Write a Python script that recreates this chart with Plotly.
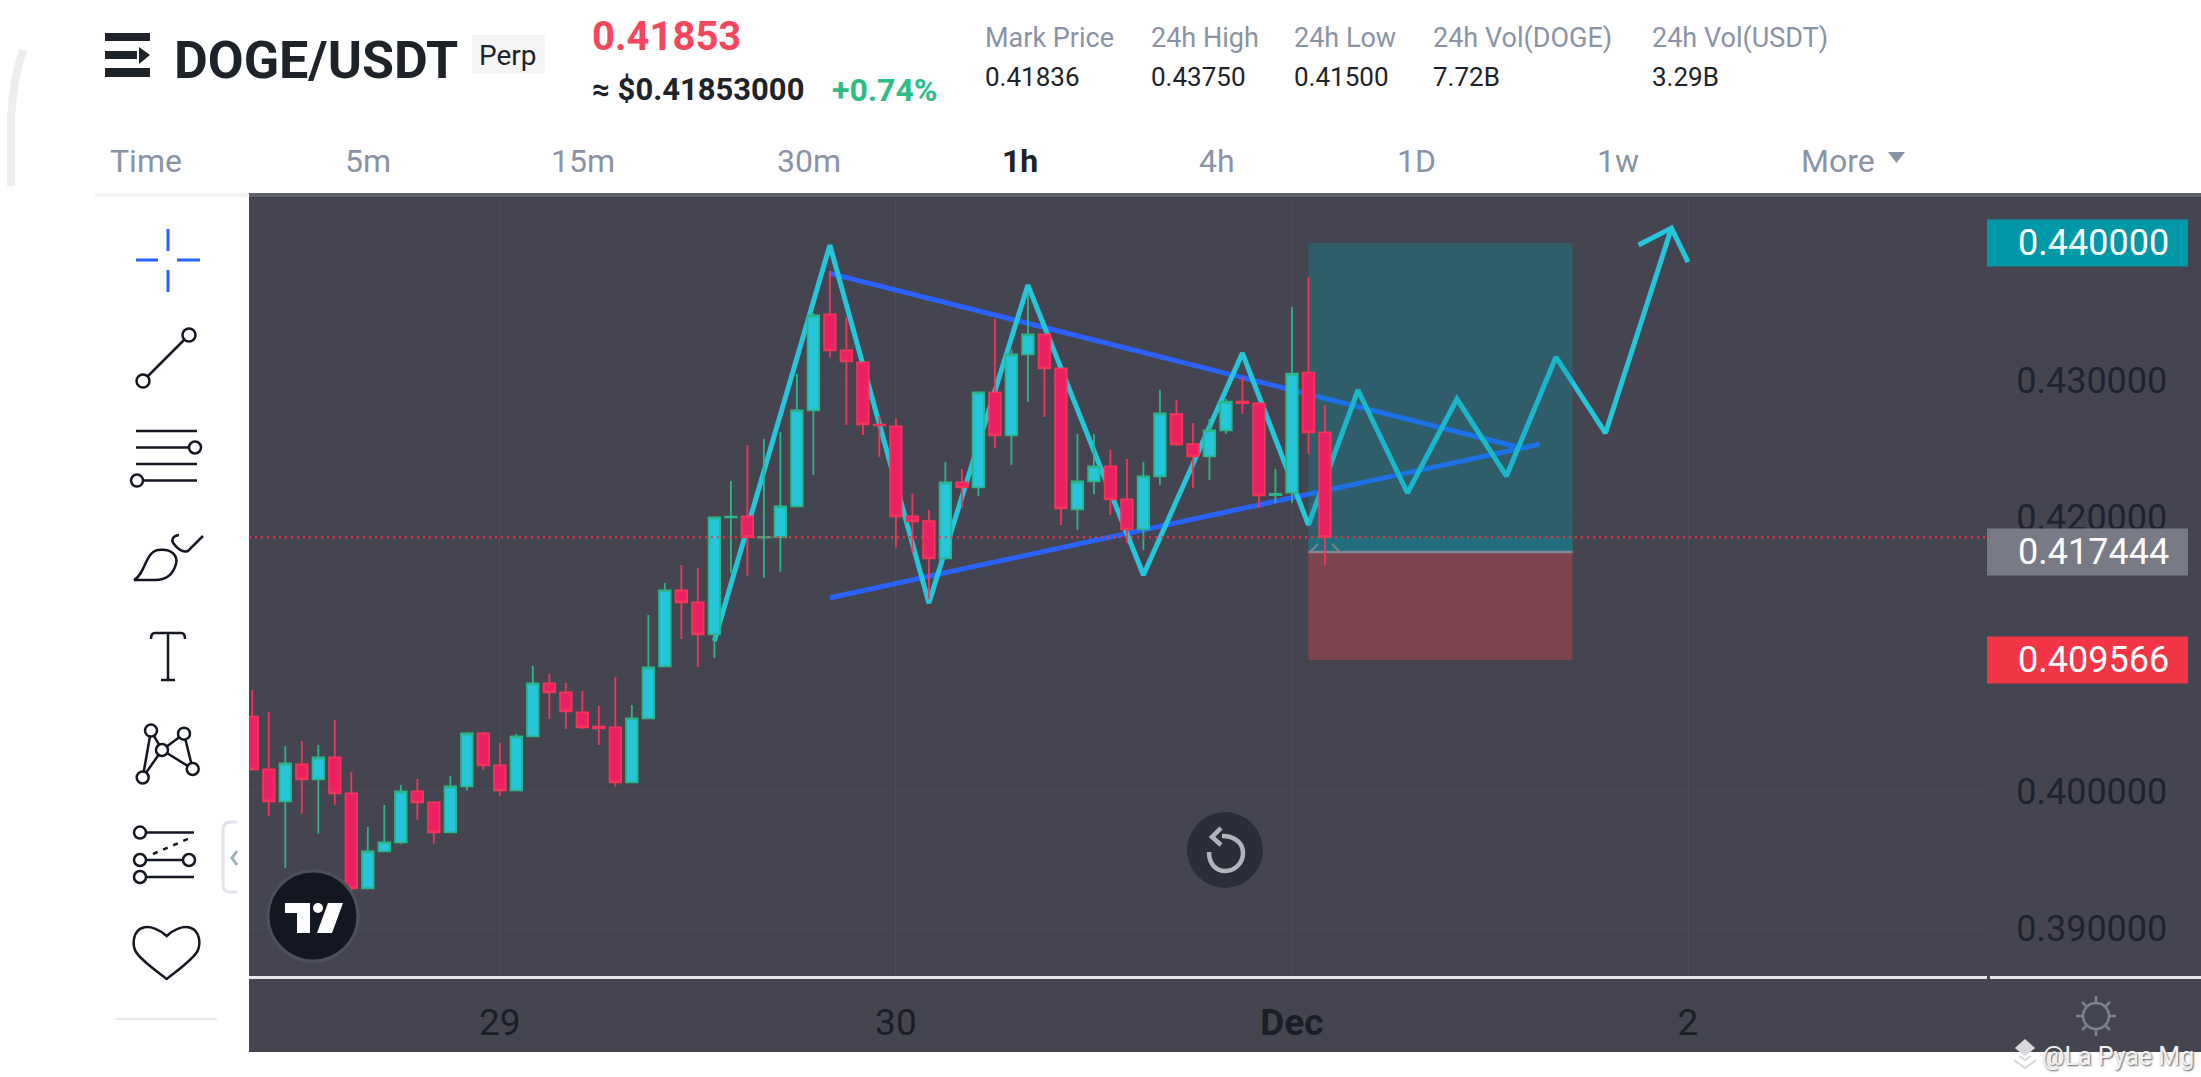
import re
import pandas as pd
import plotly.graph_objects as go

W, H = 2201, 1077
FONT = "Roboto"

# hourly candles, Nov 28 09:00 onwards
times = pd.date_range("2024-11-28 09:00", periods=66, freq="h")
opens = [.40543, .40158, .39925, .40195, .40085, .40246, .39983, .39290, .39560, .39625, .39998,
         .39917, .39698, .40034, .40421, .40187, .40005, .40399, .40786, .40720, .40574, .40470,
         .40465, .40063, .40530, .40910, .41465, .41377, .41144, .41998, .42005, .41849, .41854,
         .42078, .42779, .43479, .43217, .43129, .42674, .42662, .42005, .41969, .41698, .42253,
         .42217, .42910, .42596, .43187, .43333, .43085, .42056, .42260, .42370, .42129, .41910,
         .42297, .42750, .42531, .42443, .42633, .42842, .42830, .42160, .42178, .43054, .42618]
highs = [.40737, .40577, .40329, .40365, .40336, .40518, .40139, .39737, .39898, .40044, .40088,
         .39927, .40110, .40431, .40431, .40350, .40416, .40913, .40854, .40788, .40730, .40620,
         .40832, .40628, .41285, .41518, .41650, .41628, .41998, .42263, .42526, .42569, .42621,
         .43044, .43487, .43796, .43460, .43129, .42737, .42720, .42168, .42051, .42402, .42350,
         .42917, .43445, .43224, .43628, .43333, .43085, .42606, .42606, .42489, .42423, .42402,
         .42927, .42854, .42686, .42715, .42861, .43020, .42830, .42350, .43533, .43752, .42815]
lows = [.40148, .39820, .39438, .39835, .39689, .39900, .39265, .39290, .39560, .39613, .39791,
        .39616, .39698, .40003, .40156, .39966, .40005, .40399, .40526, .40453, .40453, .40336,
        .40032, .40063, .40530, .40910, .41110, .40905, .40971, .41594, .41572, .41557, .41601,
        .42078, .42307, .43163, .42672, .42599, .42438, .41774, .41740, .41402, .41698, .42066,
        .42153, .42504, .42380, .42840, .42730, .41942, .41905, .42168, .42015, .41810, .41759,
        .42234, .42518, .42214, .42270, .42606, .42752, .42066, .42102, .42102, .42460, .41650]
closes = [.40158, .39925, .40202, .40085, .40246, .39983, .39290, .39560, .39625, .39998, .39917,
          .39698, .40034, .40421, .40187, .40005, .40399, .40786, .40720, .40582, .40465, .40457,
          .40063, .40530, .40903, .41465, .41377, .41144, .41998, .42003, .41854, .41854, .42078,
          .42779, .43472, .43217, .43136, .42677, .42669, .42005, .41969, .41698, .42253, .42217,
          .42910, .42596, .43187, .43333, .43085, .42063, .42260, .42370, .42129, .41910, .42297,
          .42757, .42531, .42443, .42633, .42842, .42832, .42158, .42168, .43046, .42618, .41854]

# drawings on the chart
zigzag_t = ["2024-11-29 13:00", "2024-11-29 20:00", "2024-11-30 02:00", "2024-11-30 08:00",
            "2024-11-30 15:00", "2024-11-30 21:00", "2024-12-01 01:00", "2024-12-01 04:00",
            "2024-12-01 07:00", "2024-12-01 10:00", "2024-12-01 13:00", "2024-12-01 16:00",
            "2024-12-01 19:00", "2024-12-01 23:00"]
zigzag_p = [.41095, .43985, .41372, .43693, .41577, .43197, .41942, .42927, .42175, .42861,
            .42299, .43168, .42613, .44109]
arrow_t = ["2024-12-01 21:00", "2024-12-01 23:00", "2024-12-02 00:00"]
arrow_p = [.43985, .44109, .43861]
upper_t = ["2024-11-29 20:00", "2024-12-01 13:36"]
upper_p = [.43779, .42513]
lower_t = ["2024-11-29 20:00", "2024-12-01 15:00"]
lower_p = [.41411, .42531]

pos_start, pos_end = "2024-12-01 01:00", "2024-12-01 17:00"
target_price = 0.440000
entry_price = 0.417444
stop_price = 0.409566
last_price = 0.41853

price_ticks = [0.39, 0.40, 0.42, 0.43]
date_ticks = ["2024-11-29", "2024-11-30", "2024-12-01", "2024-12-02"]
date_labels = ["29", "30", "<b>Dec</b>", "2"]

stat_labels = ["Mark Price", "24h High", "24h Low", "24h Vol(DOGE)", "24h Vol(USDT)"]
stat_values = ["0.41836", "0.43750", "0.41500", "7.72B", "3.29B"]
stat_xs = [983, 1149, 1292, 1431, 1650]
tab_labels = ["Time", "5m", "15m", "30m", "1h", "4h", "1D", "1w", "More"]
tab_xs = [146, 368, 583, 809, 1020, 1217, 1416, 1618, 1838]

PANEL = "#444550"
DARK = "#1e2329"
INK = "#131722"
GREY = "#8a93a5"


def fx(x):
    return x / W


def fy(y):
    return 1 - y / H


def P(d):
    # svg path given in screen pixels -> paper coords
    out, is_x = [], True
    for tok in re.findall(r"[A-Za-z]|-?[\d.]+", d):
        if tok.isalpha():
            out.append(tok)
        else:
            v = float(tok)
            out.append(f"{fx(v):.5f}" if is_x else f"{fy(v):.5f}")
            is_x = not is_x
    return " ".join(out)


shapes = []
notes = []


def path(d, color=INK, width=2.5, fill=None, layer="above", dash=None):
    line = dict(color=color, width=width)
    if dash:
        line["dash"] = dash
    s = dict(type="path", xref="paper", yref="paper", path=P(d), line=line, layer=layer)
    if fill:
        s["fillcolor"] = fill
    shapes.append(s)


def rect(x0, y0, x1, y1, fill, layer="above"):
    shapes.append(dict(type="rect", xref="paper", yref="paper", x0=fx(x0), x1=fx(x1), y0=fy(y0), y1=fy(y1),
                       fillcolor=fill, line=dict(width=0), layer=layer))


def circle(cx, cy, r, color=INK, width=2.5, fill="#ffffff"):
    shapes.append(dict(type="circle", xref="paper", yref="paper", x0=fx(cx - r), x1=fx(cx + r),
                       y0=fy(cy - r), y1=fy(cy + r), fillcolor=fill, line=dict(color=color, width=width)))


def txt(x, y, s, size, color=DARK, anchor="left", **kw):
    notes.append(dict(xref="paper", yref="paper", x=fx(x), y=fy(y), text=s, showarrow=False, xanchor=anchor,
                      yanchor="middle", font=dict(family=FONT, size=size, color=color, **kw)))


# panel + page furniture
rect(249, 193, W, 1052, PANEL, layer="below")
rect(249, 193, W, 197, "#5f616b", layer="below")
rect(95, 193, 249, 197, "#f5f5f5", layer="below")
rect(249, 976, 1987, 979, "#e8e8ec")
rect(1990, 976, W, 979, "#e8e8ec")
rect(116, 1018, 217, 1020, "#e9e9e9")
path("M 23 50 C 16 70 12 95 11 120 L 11 186", color="#eeeeee", width=8)

# header
rect(105, 33, 150, 41, DARK)
rect(105, 51, 137, 59, DARK)
path("M 139 47 L 150 55 L 139 64 Z", color=DARK, width=0, fill=DARK)
rect(105, 68, 150, 77, DARK)
txt(172, 60, "<b>DOGE/USDT</b>", 52)
shapes.append(dict(type="rect", xref="paper", yref="paper", x0=fx(472), x1=fx(545), y0=fy(35), y1=fy(74),
                   fillcolor="#f5f5f5", line=dict(width=0), layer="below"))
txt(508, 56, "Perp", 28, anchor="center")
txt(590, 36, "<b>0.41853</b>", 40, color="#f6465d")
txt(590, 90, "<b>≈ $0.41853000</b>", 31)
txt(830, 90, "<b>+0.74%</b>", 32, color="#2ebd85")
for sx, lab, val in zip(stat_xs, stat_labels, stat_values):
    txt(sx, 38, lab, 27, color=GREY)
    txt(sx, 77, val, 26)
for tx, lab in zip(tab_xs, tab_labels):
    if lab == "1h":
        txt(tx, 161, "<b>1h</b>", 32, anchor="center")
    else:
        txt(tx, 161, lab, 32, color=GREY, anchor="center")
path("M 1888 152 L 1905 152 L 1896.5 163 Z", color="#8a93a5", width=0, fill="#8a93a5")

# toolbar icons
for d in ["M 136 260 L 158 260", "M 177 260 L 200 260", "M 168 229 L 168 251", "M 168 270 L 168 292"]:
    path(d, color="#2962ff", width=3)
path("M 143 381 L 189 335")
circle(143, 381, 6.5)
circle(189, 335, 6.5)
for y, x0 in [(431, 136), (447.5, 136), (464, 136), (480.6, 137)]:
    path(f"M {x0} {y} L 197 {y}")
circle(195, 447.5, 6)
circle(137, 480.6, 6)
path("M 134 580 C 145 575 145 552 158 550 C 172 548 178 556 176 564 C 173 575 165 580 155 580 Z")
path("M 179 535 C 172 536 171 541 174 544 C 177 548 182 553 188 551 L 203 536")
path("M 151 639 C 151 635 152 633 155 633 L 181 633 C 184 633 185 635 185 639")
path("M 168 633 L 168 680")
path("M 161 680 L 175 680")
for a, b in [((151, 730.6), (142.7, 777.5)), ((151, 730.6), (162, 750)), ((162, 750), (142.7, 777.5)),
             ((162, 750), (184, 733.7)), ((184, 733.7), (192.7, 769)), ((162, 750), (192.7, 769))]:
    path(f"M {a[0]} {a[1]} L {b[0]} {b[1]}")
for c in [(151, 730.6), (184, 733.7), (162, 750), (142.7, 777.5), (192.7, 769)]:
    circle(c[0], c[1], 6)
for y in [832.6, 860, 877]:
    path(f"M 140 {y} L 194 {y}")
path("M 153 854 L 190 838", dash="5px,6px")
for c in [(140, 832.6), (140, 860), (189, 860), (140, 877)]:
    circle(c[0], c[1], 6)
path("M 166.7 936 C 160 930 150 925 142 928 C 134 931 132 942 135 950 C 138 958 155 970 166.7 979 "
     "C 178 970 195 958 198 950 C 201 942 199 931 191 928 C 183 925 173 930 166.7 936 Z")
path("M 237 822 L 231 822 C 225 822 223 825 223 830 L 223 884 C 223 890 225 892 231 892 L 237 892",
     color="#e0e4ec", width=3)
path("M 237 851 L 232 858 L 237 865", color="#9fb2c0", width=3)

# tradingview badge
circle(313, 916, 45, color="#4e505b", width=3, fill=INK)
path("M 285 903 L 310 903 L 310 933 L 297 933 L 297 913 L 285 913 Z", color="#ffffff", width=0, fill="#ffffff")
circle(318, 908, 5, color="#ffffff", width=0, fill="#ffffff")
path("M 328 903 L 343 903 L 332 933 L 317 933 Z", color="#ffffff", width=0, fill="#ffffff")

# reset button
circle(1225, 850, 38, color="#2a2e39", width=0, fill="#2a2e39")
path("M 1209 852 C 1209 864 1216 871 1225 871 C 1235 871 1243 863 1243 853 C 1243 843 1235 836 1222 836",
     color="#b2b5be", width=4.5)
path("M 1221 828 L 1212 837 L 1221 845", color="#b2b5be", width=4.5)

# position handles
path("M 1311 551 L 1318 544", color="#7f818c", width=2)
path("M 1332 544 L 1339 551", color="#7f818c", width=2)

# settings sun + watermark
circle(2096, 1016, 13, color="#7f818c", width=2.5, fill=PANEL)
for a, b in [((2096, 996), (2096, 1003)), ((2096, 1029), (2096, 1036)), ((2076, 1016), (2083, 1016)),
             ((2109, 1016), (2116, 1016)), ((2082, 1002), (2087, 1007)), ((2105, 1025), (2110, 1030)),
             ((2082, 1030), (2087, 1025)), ((2105, 1007), (2110, 1002))]:
    path(f"M {a[0]} {a[1]} L {b[0]} {b[1]}", color="#7f818c", width=2.5)
path("M 2025 1040 L 2034 1048 L 2025 1055 L 2016 1048 Z", color="#d8d8dc", width=1.5, fill="#d8d8dc")
path("M 2014 1060 L 2025 1068 L 2036 1060", color="#d8d8dc", width=2)
path("M 2019 1056 L 2025 1060 L 2031 1056", color="#d8d8dc", width=2)
txt(2040, 1056, "@La Pyae Mg", 25, color="#f2f2f4", shadow="1px 1px 2px #55565f")

# price tags
for price, color in [(target_price, "#0097a7"), (entry_price, "#787b86"), (stop_price, "#f23645")]:
    shapes.append(dict(type="rect", xref="paper", yref="y", x0=fx(1987), x1=fx(2188),
                       y0=price - 23.5 / 13700, y1=price + 23.5 / 13700, fillcolor=color, line=dict(width=0)))
    notes.append(dict(xref="paper", yref="y", x=fx(2093), y=price, text=f"{price:.6f}", showarrow=False,
                      xanchor="center", yanchor="middle", font=dict(family=FONT, size=36, color="#ffffff")))

# last price line
shapes.append(dict(type="line", xref="paper", yref="y", x0=fx(249), x1=fx(1990), y0=last_price, y1=last_price,
                   line=dict(color="#f23645", width=2, dash="2px,4px")))


def line_trace(t, p, color, width):
    return go.Scatter(x=t, y=p, mode="lines", line=dict(color=color, width=width), hoverinfo="skip", showlegend=False)


def box_trace(p0, p1, fill):
    return go.Scatter(x=[pos_start, pos_end, pos_end, pos_start, pos_start], y=[p0, p0, p1, p1, p0], mode="lines",
                      fill="toself", fillcolor=fill, line=dict(width=0), hoverinfo="skip", showlegend=False)


fig = go.Figure()
fig.add_trace(line_trace(upper_t, upper_p, "#2962ff", 5))
fig.add_trace(line_trace(lower_t, lower_p, "#2962ff", 5))
fig.add_trace(line_trace(zigzag_t, zigzag_p, "#26c6da", 5))
fig.add_trace(line_trace(arrow_t, arrow_p, "#26c6da", 5))
fig.add_trace(box_trace(entry_price, target_price, "rgba(0,150,170,0.3)"))
fig.add_trace(box_trace(entry_price, last_price, "rgba(0,150,170,0.3)"))
fig.add_trace(box_trace(stop_price, entry_price, "rgba(255,66,80,0.3)"))
fig.add_trace(line_trace([pos_start, pos_end], [entry_price, entry_price], "#858790", 2.5))
fig.add_trace(go.Candlestick(x=times, open=opens, high=highs, low=lows, close=closes, xaxis="x2", yaxis="y2",
                             increasing=dict(fillcolor="#25c6da", line=dict(color="#2bb58b", width=1.8)),
                             decreasing=dict(fillcolor="#ec2163", line=dict(color="#f6345a", width=1.8)),
                             whiskerwidth=0, hoverinfo="skip", showlegend=False))

x_range = ["2024-11-28 08:48", "2024-12-02 18:18"]
y_range = [0.386496, 0.44336]
x_domain = [fx(249), fx(1990)]
y_domain = [fy(976), fy(197)]

fig.update_layout(
    width=W, height=H, margin=dict(l=0, r=0, t=0, b=0), autosize=False,
    paper_bgcolor="#ffffff", plot_bgcolor=PANEL, showlegend=False,
    shapes=shapes, annotations=notes, boxgap=0.3, boxgroupgap=0,
    font=dict(family=FONT),
    xaxis=dict(domain=x_domain, range=x_range, type="date", tickvals=date_ticks, ticktext=date_labels,
               ticks="outside", ticklen=14, tickcolor="rgba(0,0,0,0)", gridcolor="#4d4e59", gridwidth=1,
               showline=False, zeroline=False, rangeslider=dict(visible=False),
               tickfont=dict(family=FONT, size=37, color="#1b1e27")),
    yaxis=dict(domain=y_domain, range=y_range, side="right", tickvals=price_ticks, tickformat=".6f",
               ticks="outside", ticklen=18, tickcolor="rgba(0,0,0,0)", gridcolor="#494a55", gridwidth=1,
               showline=False, zeroline=False, tickfont=dict(family=FONT, size=36, color="#1f2230")),
    xaxis2=dict(domain=x_domain, range=x_range, type="date", overlaying="x", visible=False,
                rangeslider=dict(visible=False)),
    yaxis2=dict(domain=y_domain, range=y_range, overlaying="y", visible=False),
)

fig.write_html("out.html", config=dict(displayModeBar=False),
               post_script="document.body.style.margin='0';document.body.style.overflow='hidden';")
